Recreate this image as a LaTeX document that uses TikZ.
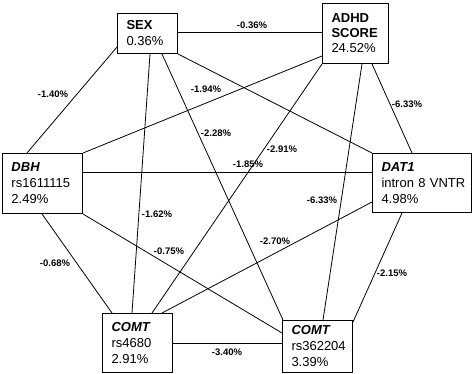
\documentclass[tikz,border=0pt]{standalone}
\usepackage{fontspec}
\setmainfont{Liberation Sans}
\begin{document}
\begin{tikzpicture}[x=1pt,y=-1pt,
  box/.style={draw, line width=1pt, anchor=north west, align=left, inner xsep=9pt, inner ysep=0pt, font=\fontsize{13}{16}\selectfont},
  conn/.style={line width=0.8pt},
  lab/.style={font=\fontsize{9.5}{11}\selectfont\bfseries, inner sep=1pt}]
\useasboundingbox (0,0) rectangle (474,374);
% boxes
\node[box, text width=42pt, minimum height=40pt] (sex) at (117,13) {\textbf{SEX}\\0.36\%};
\node[box, text width=48pt, minimum height=60pt, font=\fontsize{13}{15}\selectfont] (adhd) at (322,3) {\textbf{ADHD}\\\textbf{SCORE}\\24.52\%};
\node[box, text width=62pt, minimum height=60pt] (dbh) at (2,153) {\textbf{\textit{DBH}}\\rs1611115\\2.49\%};
\node[box, text width=89pt, inner xsep=5pt, minimum height=59pt] (dat) at (372,153) {\hspace*{4pt}\textbf{\textit{DAT1}}\\\hspace*{4pt}intron 8 VNTR\\\hspace*{4pt}4.98\%};
\node[box, text width=52pt, minimum height=59pt] (ca) at (102,313) {\textbf{\textit{COMT}}\\rs4680\\2.91\%};
\node[box, text width=52pt, minimum height=52pt] (cb) at (282,320) {\textbf{\textit{COMT}}\\rs362204\\3.39\%};
% connectors
\draw[conn] ([yshift=1pt]sex.east) -- ([yshift=1pt]sex.east -| adhd.west);
\draw[conn] ([yshift=7pt]sex.south west) -- ([xshift=25pt]dbh.north west);
\draw[conn] ([xshift=33pt]sex.south west) -- ([xshift=30pt]ca.north west);
\draw[conn] ([xshift=45pt]sex.south west) -- ([xshift=1pt]cb.north west);
\draw[conn] (sex.south east) -- (dat.north west);
\draw[conn] ([yshift=8pt]adhd.south west) -- (dbh.north east);
\draw[conn] (adhd.south west) -- ([xshift=50pt]ca.north west);
\draw[conn] ([xshift=40pt]adhd.south west) -- ([xshift=41pt]cb.north west);
\draw[conn] ([xshift=50pt]adhd.south west) -- ([xshift=40pt]dat.north west);
\draw[conn] ([yshift=11pt]dbh.east) -- ([yshift=10.5pt]dat.west);
\draw[conn] ([xshift=40pt]dbh.south west) -- ([xshift=10pt]ca.north west);
\draw[conn] (dbh.south east) -- ([yshift=-13pt]cb.north west);
\draw[conn] ([yshift=-49pt]dat.north west) -- ([xshift=60pt]ca.north west);
\draw[conn] ([xshift=30pt]dat.south west) -- ([yshift=-2pt]cb.north east);
\draw[conn] ([yshift=-30pt]ca.north east) -- ([yshift=-23pt]cb.north west);
% labels
\node[lab] (l1) at (252,25) {-0.36\%};
\node[lab] (l2) at (53,94) {-1.40\%};
\node[lab] (l3) at (206,89) {-1.94\%};
\node[lab] (l4) at (216,133) {-2.28\%};
\node[lab] (l5) at (407,104) {-6.33\%};
\node[lab] (l6) at (282,149) {-2.91\%};
\node[lab] (l7) at (248,164) {-1.85\%};
\node[lab] (l8) at (322,200) {-6.33\%};
\node[lab] (l9) at (157,214) {-1.62\%};
\node[lab] (l10) at (55,263) {-0.68\%};
\node[lab] (l11) at (169,251) {-0.75\%};
\node[lab] (l12) at (275,241) {-2.70\%};
\node[lab] (l13) at (392,273) {-2.15\%};
\node[lab] (l14) at (227,352) {-3.40\%};
\end{tikzpicture}
\end{document}
